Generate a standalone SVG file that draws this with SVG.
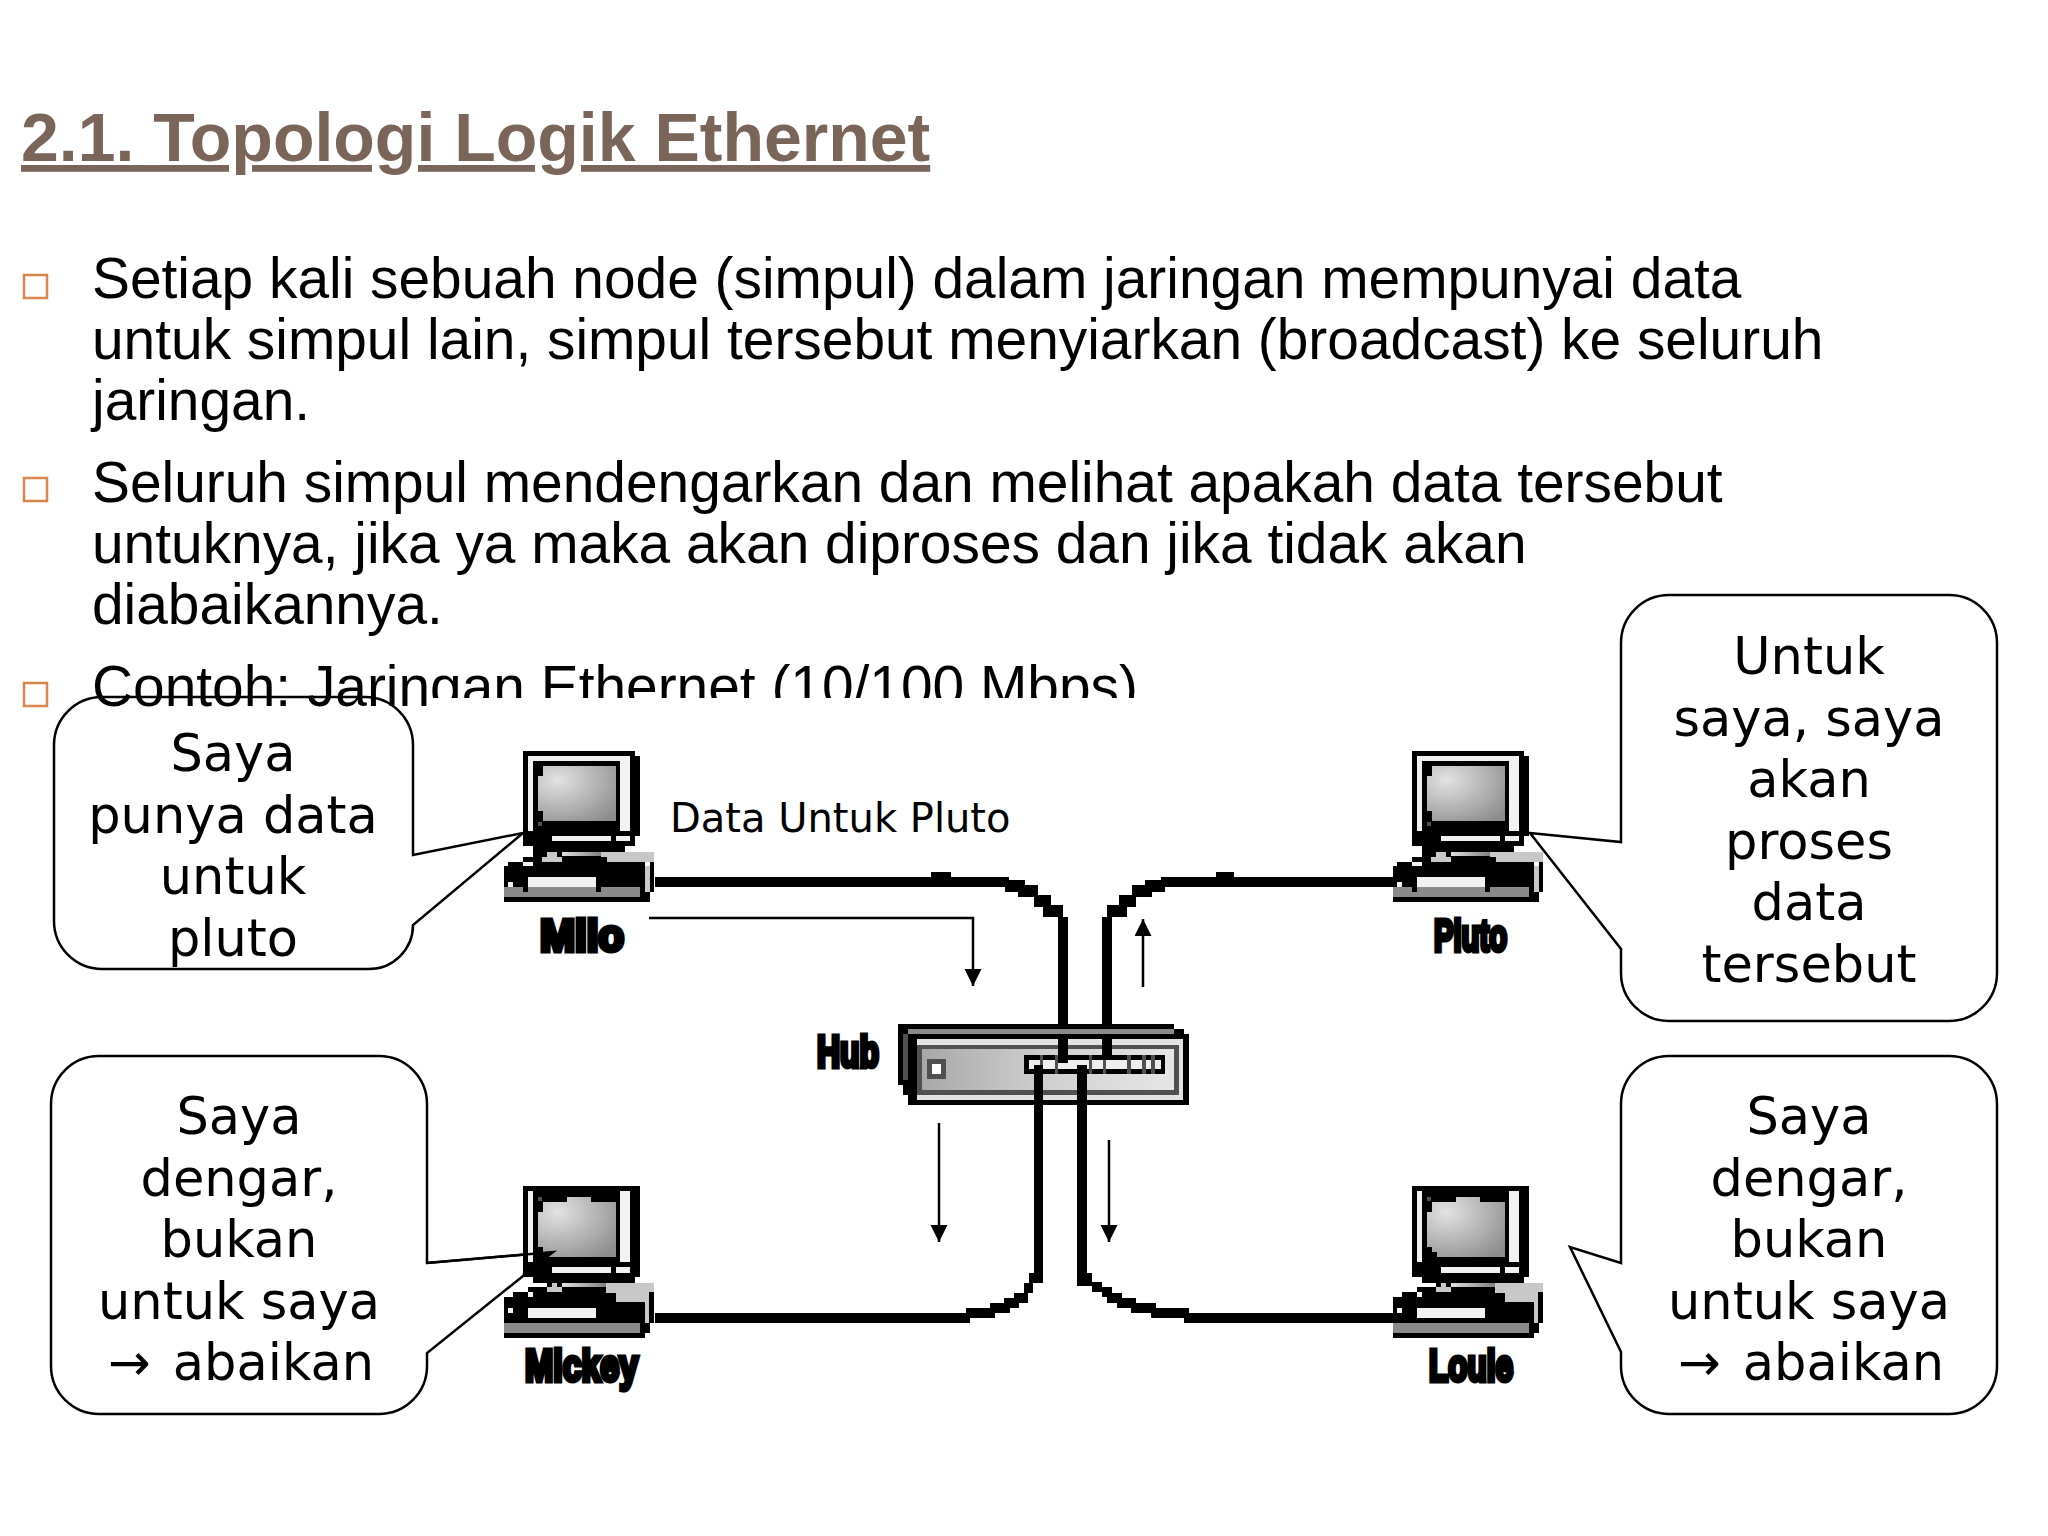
<svg xmlns="http://www.w3.org/2000/svg" width="2048" height="1536" viewBox="0 0 2048 1536">
<style>
.title{font:bold 68px "Liberation Sans",Arial,sans-serif;fill:#7a6558;text-decoration:underline}
.body{font:56.85px "Liberation Sans",Arial,sans-serif;fill:#000}
.bub{fill:#fff;stroke:#000;stroke-width:2.5}
.tail{fill:none;stroke:#000;stroke-width:2.5}
.bt{font:51px "DejaVu Sans",sans-serif;fill:#000;text-anchor:middle}
.lbl{font:bold 44px "Liberation Sans",Arial,sans-serif;fill:#000;stroke:#000;stroke-width:5}
.cap{font:40px "DejaVu Sans",sans-serif;fill:#000}
.sq{fill:none;stroke:#d9854f;stroke-width:2.5}
.ar{fill:none;stroke:#000;stroke-width:2.5}
.k{fill:#000}
.w{fill:#f2f2f2}
.g{fill:#8a8a8a}
.lg{fill:#c8c8c8}
.dk{fill:#505050}
</style>
<defs>
<radialGradient id="scr" cx="0.25" cy="0.25" r="0.95"><stop offset="0" stop-color="#e2e2e2"/><stop offset="1" stop-color="#8c8c8c"/></radialGradient>
<linearGradient id="hubg" x1="0" x2="1" y1="0" y2="0"><stop offset="0" stop-color="#a8a8a8"/><stop offset="0.5" stop-color="#d0d0d0"/><stop offset="1" stop-color="#e6e6e6"/></linearGradient>
<linearGradient id="neckg" x1="0" x2="1" y1="0" y2="0"><stop offset="0" stop-color="#e0e0e0"/><stop offset="1" stop-color="#808080"/></linearGradient>
<marker id="ah" markerUnits="userSpaceOnUse" markerWidth="18" markerHeight="18" refX="17" refY="8.5" orient="auto"><path d="M0,0L17,8.5L0,17Z" fill="#000"/></marker>
<g id="pcA">
<path class="k" d="M0,0H112V5H117V85H112V95H102V101H78V106H93V111H122V115H127V111H131V141H127V151H-19V115H-15V111H0V106H10V95H0Z"/>
<path class="w" d="M5,5H107V80H97V10H10V80H5Z"/>
<path d="M15,25H20V15H93V70H20V60H15Z" fill="url(#scr)"/>
<rect class="dk" x="15" y="71" width="4" height="4"/>
<rect class="w" x="29" y="85" width="59" height="5"/>
<rect class="w" x="93" y="85" width="14" height="5"/>
<rect x="39" y="101" width="39" height="4" fill="url(#neckg)"/>
<rect class="lg" x="24" y="101" width="10" height="5"/>
<rect class="lg" x="19" y="106" width="20" height="5"/>
<path class="lg" d="M78,101H131V111H127V115H122V141H127V111H122H93V111H84V106H78Z"/>
<rect class="lg" x="122" y="115" width="5" height="26"/>
<rect class="w" x="0" y="111" width="10" height="4"/>
<rect class="w" x="5" y="126" width="68" height="10"/>
<rect class="w" x="-15" y="131" width="5" height="5"/>
<rect class="g" x="-19" y="136" width="136" height="10"/>
<rect class="k" x="0" y="136" width="5" height="5"/>
<rect class="k" x="73" y="136" width="5" height="5"/>
</g>
<g id="pcB">
<path class="k" d="M0,0H117V91H112V97H83V107H93V116H122V106H131V137H127V147H122V152H-19V111H-10V106H5V101H24V97H10V91H0Z"/>
<rect class="w" x="5" y="5" width="5" height="71"/>
<rect class="w" x="97" y="5" width="10" height="71"/>
<path d="M20,16H44V11H68V16H93V71H25V66H20V61H15V26H20Z" fill="url(#scr)"/>
<rect class="dk" x="15" y="11" width="4" height="4"/>
<rect class="w" x="29" y="81" width="59" height="6"/>
<rect class="w" x="93" y="81" width="14" height="6"/>
<rect x="39" y="97" width="44" height="4" fill="url(#neckg)"/>
<rect class="lg" x="29" y="97" width="5" height="5"/>
<rect class="lg" x="24" y="101" width="15" height="5"/>
<path class="lg" d="M83,97H131V106H126V116H93V107H83Z"/>
<rect class="lg" x="122" y="116" width="4" height="21"/>
<rect class="w" x="5" y="106" width="5" height="5"/>
<rect class="w" x="5" y="122" width="68" height="10"/>
<rect class="w" x="-15" y="122" width="5" height="5"/>
<rect class="g" x="-19" y="137" width="136" height="10"/>
</g>
</defs>
<rect width="2048" height="1536" fill="#fff"/>
<g id="bubble-milo">
<path class="bub" d="M102,697H365A48,48 0 0 1 413,745V855L523,833L413,925A44,44 0 0 1 369,969H102A48,48 0 0 1 54,921V745A48,48 0 0 1 102,697Z"/>
<text class="bt" x="233" y="771">Saya</text>
<text class="bt" x="233" y="832.500">punya data</text>
<text class="bt" x="233" y="894">untuk</text>
<text class="bt" x="233" y="955.500">pluto</text>
</g>
<g id="slide-text">
<text class="title" x="21" y="161">2.1. Topologi Logik Ethernet</text>
<rect class="sq" x="24" y="275" width="23" height="23"/>
<rect class="sq" x="24" y="478" width="23" height="23"/>
<rect class="sq" x="24" y="683" width="23" height="23"/>
<text class="body" x="92" y="297.500">Setiap kali sebuah node (simpul) dalam jaringan mempunyai data</text>
<text class="body" x="92" y="358.800">untuk simpul lain, simpul tersebut menyiarkan (broadcast) ke seluruh</text>
<text class="body" x="92" y="420.200">jaringan.</text>
<text class="body" x="92" y="501.500">Seluruh simpul mendengarkan dan melihat apakah data tersebut</text>
<text class="body" x="92" y="562.800">untuknya, jika ya maka akan diproses dan jika tidak akan</text>
<text class="body" x="92" y="624.200">diabaikannya.</text>
<text class="body" x="92" y="705.500">Contoh: Jaringan Ethernet (10/100 Mbps)</text>
<rect x="431" y="698" width="800" height="40" fill="#fff"/>
</g>
<g id="connectors" fill="#000">
<g id="cable-milo">
<rect x="655" y="877" width="354" height="10"/><rect x="931" y="872" width="20" height="6"/>
<rect x="1005" y="880" width="20" height="12"/><rect x="1018" y="885" width="20" height="12"/><rect x="1034" y="895" width="17" height="12"/><rect x="1043" y="905" width="20" height="12"/><rect x="1058" y="917" width="10" height="146"/>
</g>
<g id="cable-pluto">
<rect x="1161" y="877" width="232" height="10"/><rect x="1216" y="872" width="18" height="6"/>
<rect x="1145" y="880" width="20" height="12"/><rect x="1132" y="885" width="20" height="12"/><rect x="1119" y="895" width="17" height="12"/><rect x="1107" y="905" width="20" height="12"/><rect x="1102" y="917" width="10" height="143"/>
</g>
<g id="cable-mickey">
<rect x="655" y="1313" width="315" height="10"/><rect x="966" y="1308" width="29" height="10"/><rect x="990" y="1303" width="20" height="10"/><rect x="1004" y="1298" width="15" height="10"/><rect x="1014" y="1293" width="14" height="10"/><rect x="1024" y="1283" width="9" height="10"/><rect x="1029" y="1273" width="14" height="10"/><rect x="1034" y="1065" width="9" height="218"/>
</g>
<g id="cable-louie">
<rect x="1184" y="1313" width="209" height="10"/><rect x="1151" y="1308" width="38" height="10"/><rect x="1131" y="1303" width="25" height="10"/><rect x="1117" y="1298" width="19" height="10"/><rect x="1107" y="1293" width="15" height="10"/><rect x="1102" y="1287" width="10" height="10"/><rect x="1092" y="1282" width="10" height="10"/><rect x="1077" y="1273" width="15" height="13"/><rect x="1077" y="1065" width="10" height="212"/>
</g>
<path class="ar" d="M649,918H973V986" marker-end="url(#ah)"/>
<path class="ar" d="M1143,987V919" marker-end="url(#ah)"/>
<path class="ar" d="M939,1123V1242" marker-end="url(#ah)"/>
<path class="ar" d="M1109,1140V1242" marker-end="url(#ah)"/>
</g>
<g id="bubble-pluto">
<path class="bub" d="M1669,595H1949A48,48 0 0 1 1997,643V973A48,48 0 0 1 1949,1021H1669A48,48 0 0 1 1621,973V949L1530,833L1621,842V643A48,48 0 0 1 1669,595Z"/>
<text class="bt" x="1809" y="674">Untuk</text>
<text class="bt" x="1809" y="735.500">saya, saya</text>
<text class="bt" x="1809" y="797">akan</text>
<text class="bt" x="1809" y="858.500">proses</text>
<text class="bt" x="1809" y="920">data</text>
<text class="bt" x="1809" y="981.500">tersebut</text>
</g>
<g id="bubble-mickey">
<path class="bub" d="M99,1056H379A48,48 0 0 1 427,1104V1263L553,1252L427,1353V1366A48,48 0 0 1 379,1414H99A48,48 0 0 1 51,1366V1104A48,48 0 0 1 99,1056Z"/>
<text class="bt" x="239" y="1134">Saya</text>
<text class="bt" x="239" y="1195.500">dengar,</text>
<text class="bt" x="239" y="1257">bukan</text>
<text class="bt" x="239" y="1318.500">untuk saya</text>
<text class="bt" x="241" y="1380">→<tspan dx="6"> abaikan</tspan></text>
</g>
<g id="bubble-louie">
<path class="bub" d="M1669,1056H1949A48,48 0 0 1 1997,1104V1366A48,48 0 0 1 1949,1414H1669A48,48 0 0 1 1621,1366V1352L1570,1247L1621,1263V1104A48,48 0 0 1 1669,1056Z"/>
<text class="bt" x="1809" y="1134">Saya</text>
<text class="bt" x="1809" y="1195.500">dengar,</text>
<text class="bt" x="1809" y="1257">bukan</text>
<text class="bt" x="1809" y="1318.500">untuk saya</text>
<text class="bt" x="1811" y="1380">→<tspan dx="6"> abaikan</tspan></text>
</g>
<g id="hub">
<path class="k" d="M898,1024H1174V1029H1184V1034H1189V1105H908V1095H903V1085H898Z"/>
<rect class="g" x="908" y="1029" width="266" height="5"/>
<rect class="dk" x="903" y="1034" width="5" height="46"/>
<rect x="917" y="1039" width="266" height="61" fill="#e2e2e2"/>
<rect class="dk" x="917" y="1045" width="262" height="50"/>
<rect x="922" y="1049" width="252" height="41" fill="url(#hubg)"/>
<rect class="dk" x="927" y="1059" width="19" height="20"/>
<rect x="932" y="1064" width="9" height="10" fill="#fff"/>
<rect class="k" x="1024" y="1055" width="141" height="19"/>
<rect x="1029" y="1060" width="132" height="9" fill="#eee"/>
<g class="dk">
<rect x="1040" y="1055" width="3" height="19"/><rect x="1055" y="1055" width="3" height="19"/><rect x="1089" y="1055" width="3" height="19"/><rect x="1103" y="1055" width="3" height="19"/><rect x="1127" y="1055" width="4" height="19"/><rect x="1142" y="1055" width="4" height="19"/><rect x="1151" y="1055" width="4" height="19"/>
</g>
<path class="k" d="M1058,1034H1068V1063H1058ZM1102,1034H1112V1060H1102ZM1034,1065H1043V1105H1034ZM1077,1065H1087V1105H1077Z"/>
<text class="lbl" x="817" y="1067" textLength="62" lengthAdjust="spacingAndGlyphs">Hub</text>
</g>
<g id="milo">
<use href="#pcA" x="523" y="751"/>
<text class="lbl" x="540" y="951" textLength="84" lengthAdjust="spacingAndGlyphs">Milo</text>
</g>
<text class="cap" x="670" y="832">Data Untuk Pluto</text>
<g id="pluto">
<use href="#pcA" x="1412" y="751"/>
<text class="lbl" x="1434" y="951" textLength="73" lengthAdjust="spacingAndGlyphs">Pluto</text>
</g>
<g id="mickey">
<use href="#pcB" x="523" y="1186"/>
<text class="lbl" x="525" y="1381" textLength="113" lengthAdjust="spacingAndGlyphs">Mickey</text>
<path class="tail" d="M427,1263L553,1252L523,1275"/>
</g>
<g id="louie">
<use href="#pcB" x="1412" y="1186"/>
<text class="lbl" x="1429" y="1381" textLength="84" lengthAdjust="spacingAndGlyphs">Louie</text>
</g>
</svg>
